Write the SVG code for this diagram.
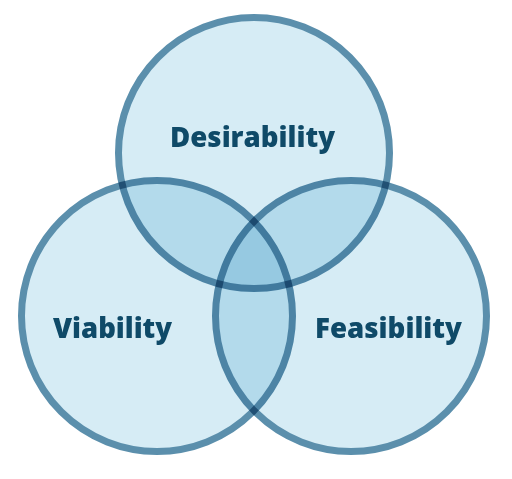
<svg xmlns="http://www.w3.org/2000/svg" width="512" height="479" viewBox="0 0 512 479">
  <style>
    .c { fill: #d6ecf5; stroke: #5b8fac; stroke-width: 7; mix-blend-mode: multiply; }
    .t { font-family: "Open Sans", "Liberation Sans", sans-serif; font-weight: 800; font-size: 29px; fill: #0f4a68; text-anchor: middle; }
  </style>
  <rect width="512" height="479" fill="#ffffff"/>
  <g id="desirability">
    <circle class="c" cx="254" cy="153" r="135.5"/>
  </g>
  <g id="viability">
    <circle class="c" cx="157" cy="316" r="135.5"/>
  </g>
  <g id="feasibility">
    <circle class="c" cx="351" cy="316" r="135.5"/>
  </g>
  <g id="labels">
    <text class="t" x="252.5" y="147" textLength="165" lengthAdjust="spacingAndGlyphs">Desirability</text>
    <text class="t" x="112.5" y="338" textLength="119" lengthAdjust="spacingAndGlyphs">Viability</text>
    <text class="t" x="388.5" y="338" textLength="147" lengthAdjust="spacingAndGlyphs">Feasibility</text>
  </g>
</svg>
